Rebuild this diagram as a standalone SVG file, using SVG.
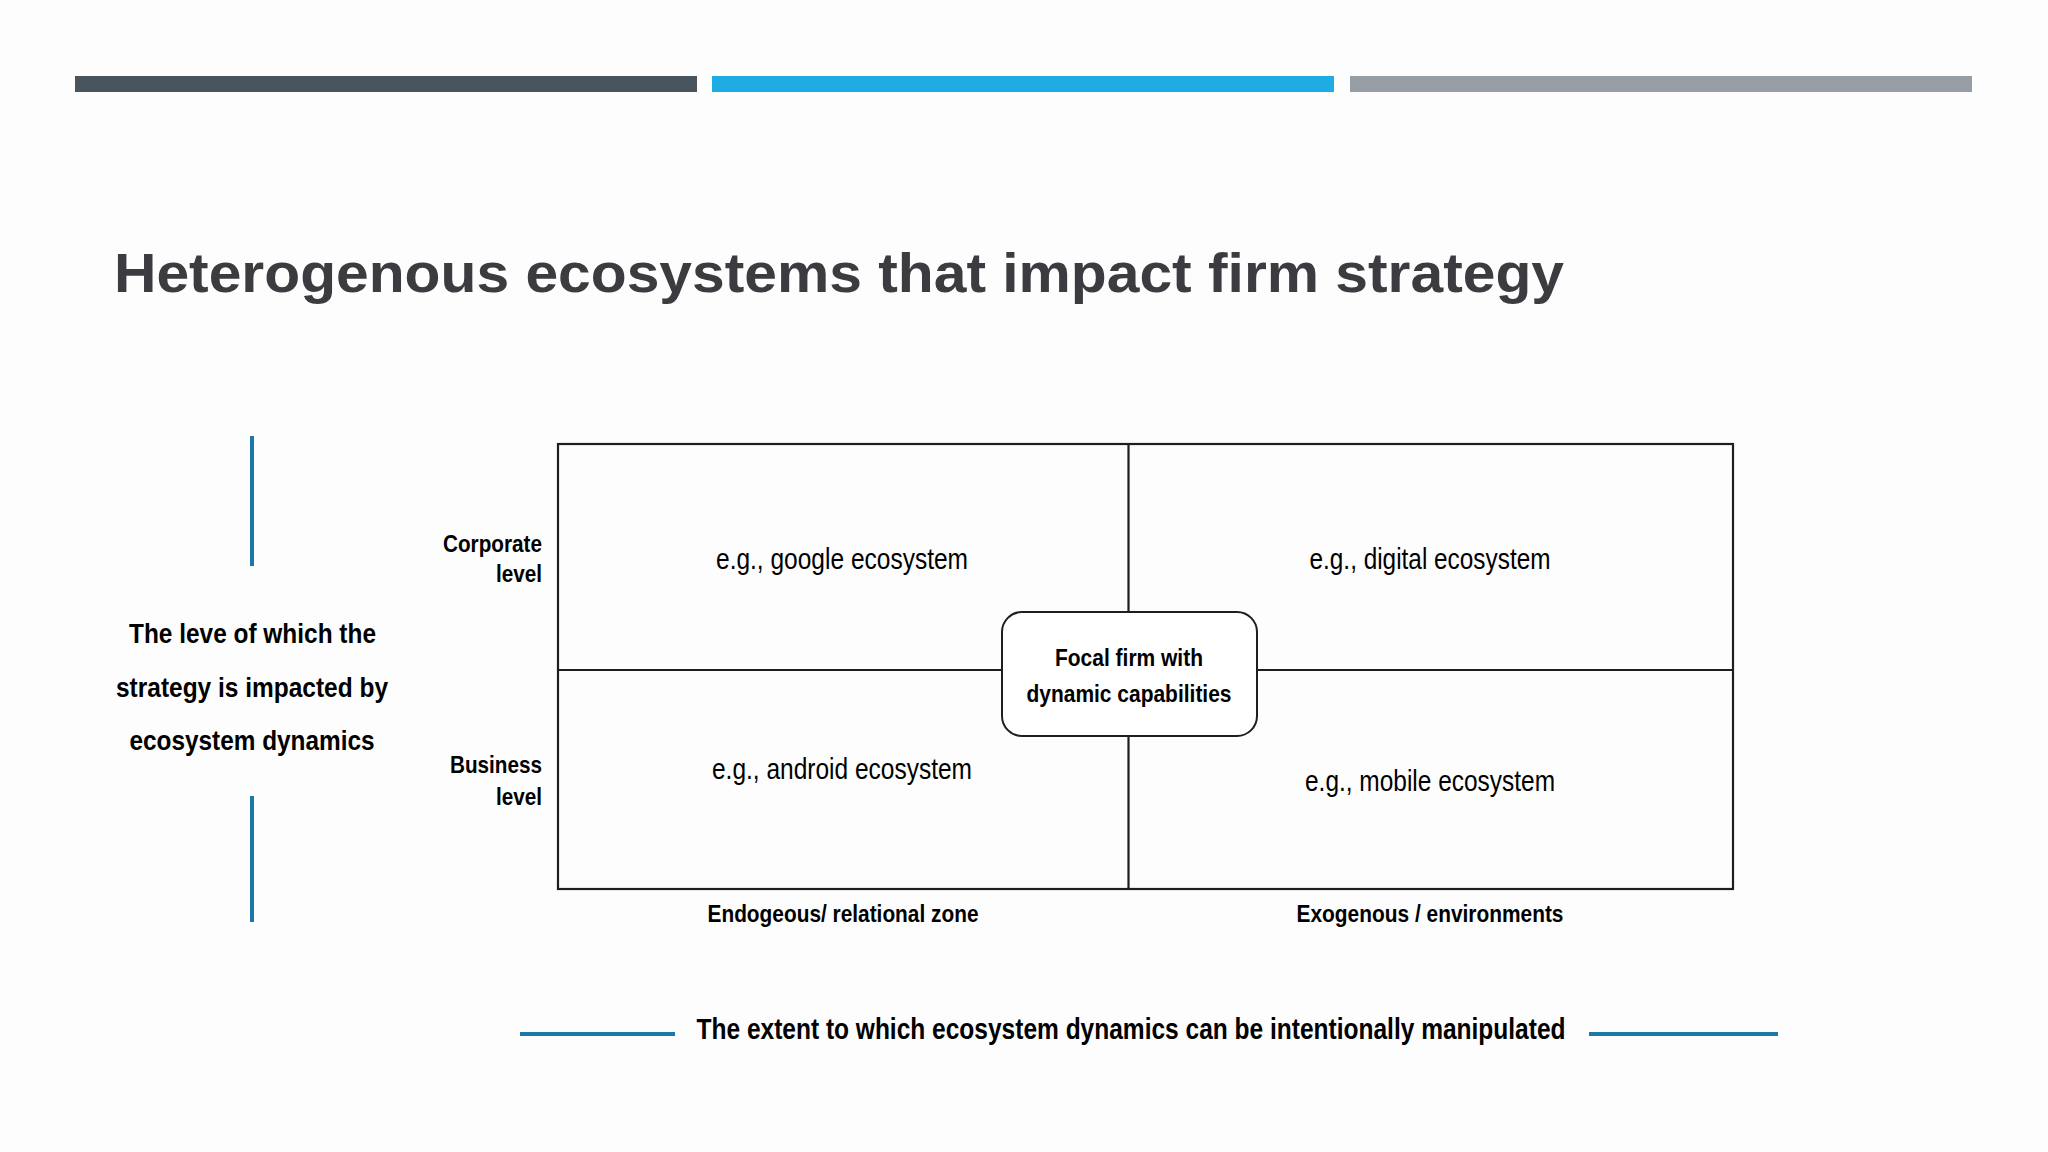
<svg xmlns="http://www.w3.org/2000/svg" width="2048" height="1152" viewBox="0 0 2048 1152">
<style>
.t{font-family:"Liberation Sans",Arial,sans-serif;fill:#000}
.b{font-weight:bold}
.cell{font-size:29px}
.lab{font-size:24px;font-weight:bold}
.side{font-size:27px;font-weight:bold}
.grid{fill:none;stroke:#1e1e1e;stroke-width:2.2}
.blue{stroke:#1b78a8;stroke-width:4}
</style>
<rect width="2048" height="1152" fill="#fdfdfd"/>
<g id="header-bars">
<rect x="75" y="76" width="622" height="16" fill="#4a545c"/>
<rect x="712" y="76" width="622" height="16" fill="#1eace2"/>
<rect x="1350" y="76" width="622" height="16" fill="#989ea6"/>
</g>
<text id="title" x="114" y="292" class="t b" style="font-size:56px;fill:#3c3b40" textLength="1450" lengthAdjust="spacingAndGlyphs">Heterogenous ecosystems that impact firm strategy</text>

<g id="connectors">
<line class="grid" x1="1128.5" y1="444" x2="1128.5" y2="612"/>
<line class="grid" x1="1128.5" y1="736" x2="1128.5" y2="889"/>
<line class="grid" x1="558" y1="670" x2="1002" y2="670"/>
<line class="grid" x1="1257" y1="670" x2="1733" y2="670"/>
<line class="blue" x1="252" y1="436" x2="252" y2="566"/>
<line class="blue" x1="252" y1="796" x2="252" y2="922"/>
<line class="blue" x1="520" y1="1034" x2="675" y2="1034"/>
<line class="blue" x1="1589" y1="1034" x2="1778" y2="1034"/>
</g>

<g id="matrix">
<rect class="grid" x="558" y="444" width="1175" height="445"/>
</g>

<g id="cell-google"><text class="t cell" x="842" y="569" text-anchor="middle" textLength="252" lengthAdjust="spacingAndGlyphs">e.g., google ecosystem</text></g>
<g id="cell-digital"><text class="t cell" x="1430" y="569" text-anchor="middle" textLength="241" lengthAdjust="spacingAndGlyphs">e.g., digital ecosystem</text></g>
<g id="cell-android"><text class="t cell" x="842" y="779" text-anchor="middle" textLength="260" lengthAdjust="spacingAndGlyphs">e.g., android ecosystem</text></g>
<g id="cell-mobile"><text class="t cell" x="1430" y="791" text-anchor="middle" textLength="250" lengthAdjust="spacingAndGlyphs">e.g., mobile ecosystem</text></g>

<g id="focal-firm">
<rect x="1002" y="612" width="255" height="124" rx="20" ry="20" fill="#fff" stroke="#1e1e1e" stroke-width="2"/>
<text class="t lab" x="1129" y="666" text-anchor="middle" textLength="148" lengthAdjust="spacingAndGlyphs">Focal firm with</text>
<text class="t lab" x="1129" y="702" text-anchor="middle" textLength="205" lengthAdjust="spacingAndGlyphs">dynamic capabilities</text>
</g>

<g id="row-corporate">
<text class="t lab" x="542" y="552" text-anchor="end" textLength="99" lengthAdjust="spacingAndGlyphs">Corporate</text>
<text class="t lab" x="542" y="582" text-anchor="end" textLength="46" lengthAdjust="spacingAndGlyphs">level</text>
</g>
<g id="row-business">
<text class="t lab" x="542" y="773" text-anchor="end" textLength="92" lengthAdjust="spacingAndGlyphs">Business</text>
<text class="t lab" x="542" y="805" text-anchor="end" textLength="46" lengthAdjust="spacingAndGlyphs">level</text>
</g>

<g id="col-endogenous"><text class="t lab" x="843" y="922" text-anchor="middle" textLength="271" lengthAdjust="spacingAndGlyphs">Endogeous/ relational zone</text></g>
<g id="col-exogenous"><text class="t lab" x="1430" y="922" text-anchor="middle" textLength="267" lengthAdjust="spacingAndGlyphs">Exogenous / environments</text></g>

<g id="axis-vertical">
<text class="t side" x="252.5" y="643" text-anchor="middle" textLength="247" lengthAdjust="spacingAndGlyphs">The leve of which the</text>
<text class="t side" x="252" y="697" text-anchor="middle" textLength="272" lengthAdjust="spacingAndGlyphs">strategy is impacted by</text>
<text class="t side" x="252" y="750" text-anchor="middle" textLength="245" lengthAdjust="spacingAndGlyphs">ecosystem dynamics</text>
</g>

<g id="axis-horizontal">
<text class="t b" x="1131" y="1039" text-anchor="middle" style="font-size:29px" textLength="869" lengthAdjust="spacingAndGlyphs">The extent to which ecosystem dynamics can be intentionally manipulated</text>
</g>
</svg>
